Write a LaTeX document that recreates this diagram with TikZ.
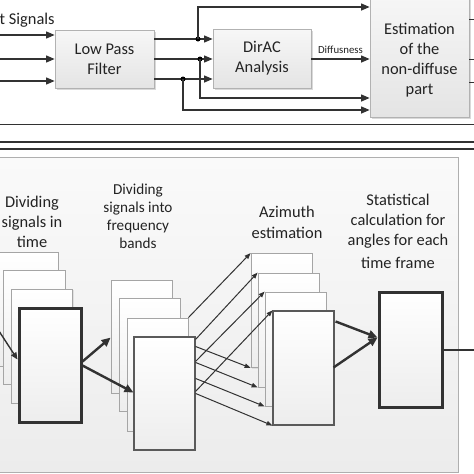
\documentclass[tikz,border=0pt]{standalone}
\usepackage{fontspec}
\setmainfont{Carlito}
\usetikzlibrary{arrows.meta,calc,shadows}
\definecolor{ln}{RGB}{50,50,50}
\definecolor{tx}{RGB}{35,35,35}
\definecolor{boxedge}{RGB}{178,178,178}
\definecolor{tbtop}{RGB}{247,247,247}
\definecolor{tbbot}{RGB}{228,228,228}
\definecolor{pnedge}{RGB}{175,175,175}
\definecolor{pntop}{RGB}{250,250,250}
\definecolor{pnbot}{RGB}{236,236,236}
\definecolor{bkedge}{RGB}{165,165,165}
\definecolor{frontedge}{RGB}{90,90,90}
\definecolor{boldedge}{RGB}{50,50,50}
\begin{document}
\begin{tikzpicture}[x=1pt,y=-1pt,
  txt/.style={font=\fontsize{16.4}{20}\selectfont,text=tx,inner sep=0pt},
  txtb/.style={font=\fontsize{15.2}{18}\selectfont,text=tx,inner sep=0pt},
  txtc/.style={font=\fontsize{16.4}{21}\selectfont,text=tx,inner sep=0pt},
  topbox/.style={draw=boxedge,line width=0.8pt,top color=tbtop,bottom color=tbbot,inner sep=0pt,
    drop shadow={shadow xshift=1.5pt,shadow yshift=-1.5pt,fill=black,opacity=0.15}},
  panel/.style={draw=pnedge,line width=0.9pt,top color=pntop,bottom color=pnbot,inner sep=0pt},
  backbox/.style={draw=bkedge,line width=0.8pt,top color=white,bottom color=white!93!black,inner sep=0pt,
    drop shadow={shadow xshift=1pt,shadow yshift=-1pt,fill=black,opacity=0.08}},
  frontbox/.style={draw=frontedge,line width=1.1pt,top color=white,bottom color=white!93!black,inner sep=0pt},
  boldbox/.style={draw=boldedge,line width=3pt,top color=white,bottom color=white!93!black,inner sep=0pt},
  tarr/.style={draw=ln,line width=1.2pt,-{Triangle[length=8.5pt,width=7pt]}},
  plain/.style={draw=ln,line width=1.2pt},
  thinarr/.style={draw=ln,line width=1pt,-{Triangle[length=6pt,width=4.5pt]}},
  thkarr/.style={draw=ln,line width=2.4pt,-{Triangle[length=9pt,width=8pt]}},
  dot/.style={circle,fill=black,inner sep=0pt,minimum size=5pt},
  sep/.style={draw=ln,line width=1.1pt}
]
\useasboundingbox (0,0) rectangle (474,474);
\fill[white] (0,0) rectangle (474,474);
\clip (0,0) rectangle (474,474);

% ---------------- top section ----------------
\node[txt,anchor=west] (insig) at (-0.5,20) {t Signals};
\node[topbox,minimum width=99pt,minimum height=58pt,align=center,txt] (lpf) at (104.5,59) {Low Pass\\Filter};
\node[topbox,minimum width=98pt,minimum height=59pt,align=center,txt] (dirac) at (262,58.5) {DirAC\\Analysis};
\node[topbox,minimum width=99pt,minimum height=126pt] (est) at (419.5,54) {};
\node[txt,align=center] (esttxt) at (419.5,60) {Estimation\\of the\\non-diffuse\\part};

\coordinate (i1) at (-3,35);
\coordinate (i2) at (-3,59);
\coordinate (i3) at (-3,81);
\draw[tarr] (i1) -- (lpf.west |- i1);
\draw[tarr] (i2) -- (lpf.west |- i2);
\draw[tarr] (i3) -- (lpf.west |- i3);

\coordinate (l1) at (154,39);
\coordinate (l2) at (154,59);
\coordinate (l3) at (154,79);
\draw[tarr] (lpf.east |- l1) -- (dirac.west |- l1);
\draw[tarr] (lpf.east |- l2) -- (dirac.west |- l2);
\draw[tarr] (lpf.east |- l3) -- (dirac.west |- l3);

\node[dot] (d1) at (198,39) {};
\node[dot] (d2) at (200,59) {};
\node[dot] (d3) at (183,79) {};
\coordinate (e1) at (198,7);
\coordinate (e2) at (200,98);
\coordinate (e3) at (183,110);
\draw[tarr] (d1.center) -- (e1) -- (est.west |- e1);
\draw[tarr] (d2.center) -- (e2) -- (est.west |- e2);
\draw[tarr] (d3.center) -- (e3) -- (est.west |- e3);

\draw[tarr] (dirac.east |- l2) -- node[midway,above=5pt,font=\fontsize{10.8}{12}\selectfont,text=tx,inner sep=0pt] (dif) {Diffusness} (est.west |- l2);

\coordinate (o1) at (477,19);
\coordinate (o2) at (477,59);
\coordinate (o3) at (477,82);
\draw[plain,line width=0.9pt] (est.east |- o1) -- (o1);
\draw[plain,line width=0.9pt] (est.east |- o2) -- (o2);
\draw[plain,line width=0.9pt] (est.east |- o3) -- (o3);

% separators
\draw[sep,line width=0.9pt] (-2,124) -- (477,124);
\draw[sep] (-2,142) -- (477,142);
\draw[sep] (-2,149) -- (477,149);

% ---------------- bottom panel ----------------
\node[panel,minimum width=462pt,minimum height=315pt] (panel) at (227,314.5) {};

\node[txt,align=center] (lab1) at (32,222) {Dividing\\signals in\\time};
\node[txtb,align=center] (lab2) at (138,216) {Dividing\\signals into\\frequency\\bands};
\node[txtc,align=center] (lab3) at (287,222.5) {Azimuth\\estimation};
\node[txt,align=center] (lab4) at (398,231.5) {Statistical\\calculation for\\angles for each\\[3pt]time frame};

% time stack
\node[backbox,minimum width=62pt,minimum height=114pt] (tA) at (27,309) {};
\node[backbox,minimum width=62pt,minimum height=114pt] (tB) at (34,327) {};
\node[backbox,minimum width=61pt,minimum height=114pt] (tC) at (42,346) {};
\node[boldbox,minimum width=62pt,minimum height=114pt] (tT) at (50,365) {};

% frequency stack
\node[backbox,minimum width=61pt,minimum height=113pt] (fA) at (141.5,336.5) {};
\node[backbox,minimum width=61pt,minimum height=113pt] (fB) at (149.5,354.5) {};
\node[backbox,minimum width=61pt,minimum height=113pt] (fC) at (157.5,374.5) {};
\node[frontbox,minimum width=61pt,minimum height=113pt] (fD) at (164.5,393.5) {};

% azimuth stack
\node[backbox,minimum width=61pt,minimum height=114pt] (aA) at (281.5,310.5) {};
\node[backbox,minimum width=61pt,minimum height=114pt] (aB) at (288.5,330) {};
\node[backbox,minimum width=61pt,minimum height=114pt] (aC) at (295.5,349) {};
\node[frontbox,minimum width=61pt,minimum height=114pt] (aD) at (303.5,368) {};

% statistics box
\node[boldbox,minimum width=63pt,minimum height=115pt] (stat) at (410.5,349.5) {};

% input arrow into time box
\coordinate (inT) at (-3,328);
\draw[draw=ln,line width=1.4pt,-{Triangle[length=7pt,width=6pt]}] (inT) -- ($(tT.north west)+(0,53)$);

% time -> frequency
\draw[thkarr] ($(tT.north east)+(0,55)$) -- ($(fA.north west)+(0,58)$);
\draw[thkarr] ($(tT.north east)+(0,59)$) -- ($(fD.north west)+(0,56)$);

% frequency -> azimuth (up)
\draw[thinarr] (fC.north east) -- (aA.north west);
\draw[thinarr] ($(fD.north east)+(0,3)$) -- (aB.north west);
\draw[thinarr] ($(fD.north east)+(0,25)$) -- (aC.north west);
\draw[thinarr] ($(fD.north east)+(0,55)$) -- (aD.north west);
% frequency -> azimuth (down)
\draw[thinarr] ($(fD.north east)+(0,10)$) -- (aA.south west);
\draw[thinarr] ($(fD.north east)+(0,26)$) -- (aB.south west);
\draw[thinarr] ($(fD.north east)+(0,42)$) -- (aC.south west);
\draw[thinarr] ($(fD.north east)+(0,57)$) -- (aD.south west);

% azimuth -> statistics
\draw[thkarr] ($(aD.north east)+(1,11)$) -- ($(stat.north west)+(0,47)$);
\draw[thkarr] ($(aD.north east)+(-1,57)$) -- ($(stat.north west)+(0,47)$);

% output
\coordinate (outS) at (477,349.5);
\draw[draw=ln,line width=2pt] (stat.east) -- (outS);
\end{tikzpicture}
\end{document}
